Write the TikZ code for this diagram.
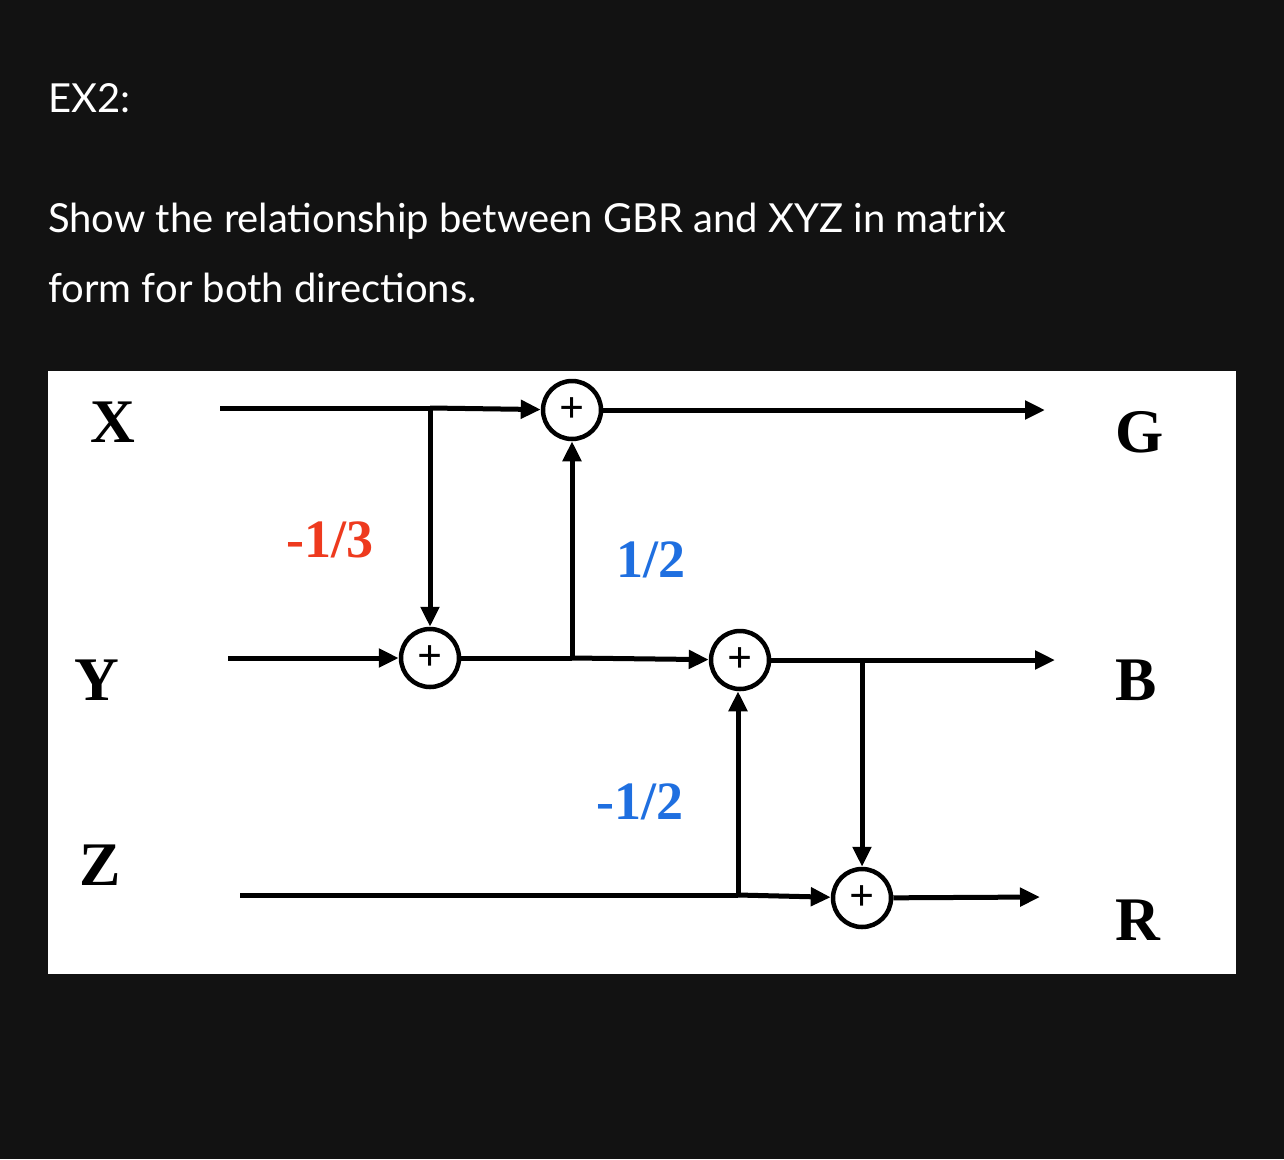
\documentclass[tikz,border=0pt]{standalone}
\usepackage{fontspec}
\setmainfont{Lato}
\newfontfamily\serifb{Liberation Serif}
\usetikzlibrary{arrows.meta}
\definecolor{bg}{HTML}{121212}
\definecolor{redl}{HTML}{EE3A1E}
\definecolor{bluel}{HTML}{1F6FE0}
\begin{document}
\begin{tikzpicture}[x=1pt,y=-1pt,
  sumnode/.style={circle,draw=black,line width=4.5pt,fill=white,minimum size=58pt,inner sep=0pt,font=\serifb\bfseries\fontsize{44}{44}\selectfont},
  lbl/.style={font=\serifb\bfseries\fontsize{62}{62}\selectfont,text=black},
  gain/.style={font=\serifb\bfseries\fontsize{54}{54}\selectfont},
  sig/.style={line width=5pt,-{Triangle[length=20pt,width=18pt]}},
  wire/.style={line width=5pt}]
\fill[bg] (0,0) rectangle (1284,1159);
\useasboundingbox (0,0) rectangle (1284,1159);
\node[anchor=base west,text=white,font=\fontsize{40}{40}\selectfont,inner sep=0pt] (t1) at (48,112) {EX2:};
\node[anchor=base west,text=white,font=\fontsize{40}{40}\selectfont,inner sep=0pt] (t2) at (48,232) {Show the relationship between GBR and XYZ in matrix};
\node[anchor=base west,text=white,font=\fontsize{40}{40}\selectfont,inner sep=0pt] (t3) at (48,302) {form for both directions.};
\fill[white] (48,371) rectangle (1236,974);
\node[sumnode] (s1) at (572,410) {+};
\node[sumnode] (s2) at (430,658) {+};
\node[sumnode] (s3) at (740,660) {+};
\node[sumnode] (s4) at (862,898) {+};
\node[lbl] (X) at (113,422) {X};
\node[lbl] (Y) at (97,680) {Y};
\node[lbl] (Z) at (100,865) {Z};
\node[lbl] (G) at (1140,432) {G};
\node[lbl] (B) at (1136,680) {B};
\node[lbl] (R) at (1138,920) {R};
\coordinate (xa) at (220,408);
\coordinate (xb) at (430,408);
\coordinate (ge) at (1045,410);
\coordinate (ya) at (228,658);
\coordinate (yb) at (572,658);
\coordinate (za) at (240,895);
\coordinate (zb) at (738,895);
\coordinate (bb) at (862,660);
\coordinate (be) at (1055,660);
\coordinate (re) at (1040,897);
\draw[wire] (xa) -- (xb);
\draw[sig] (xb) -- (s1);
\draw[sig] (xb) -- (s2);
\draw[sig] (s1) -- (ge);
\draw[sig] (ya) -- (s2);
\draw[wire] (s2) -- (yb);
\draw[sig] (yb) -- (s1);
\draw[sig] (yb) -- (s3);
\draw[wire] (za) -- (zb);
\draw[sig] (zb) -- (s3.south -| zb);
\draw[sig] (zb) -- (s4);
\draw[wire] (s3) -- (bb);
\draw[sig] (bb) -- (be);
\draw[sig] (bb) -- (s4);
\draw[sig] (s4) -- (re);
\node[gain,text=redl] (g1) at (330,540) {-1/3};
\node[gain,text=bluel] (g2) at (651,560) {1/2};
\node[gain,text=bluel] (g3) at (640,802) {-1/2};
\end{tikzpicture}
\end{document}
